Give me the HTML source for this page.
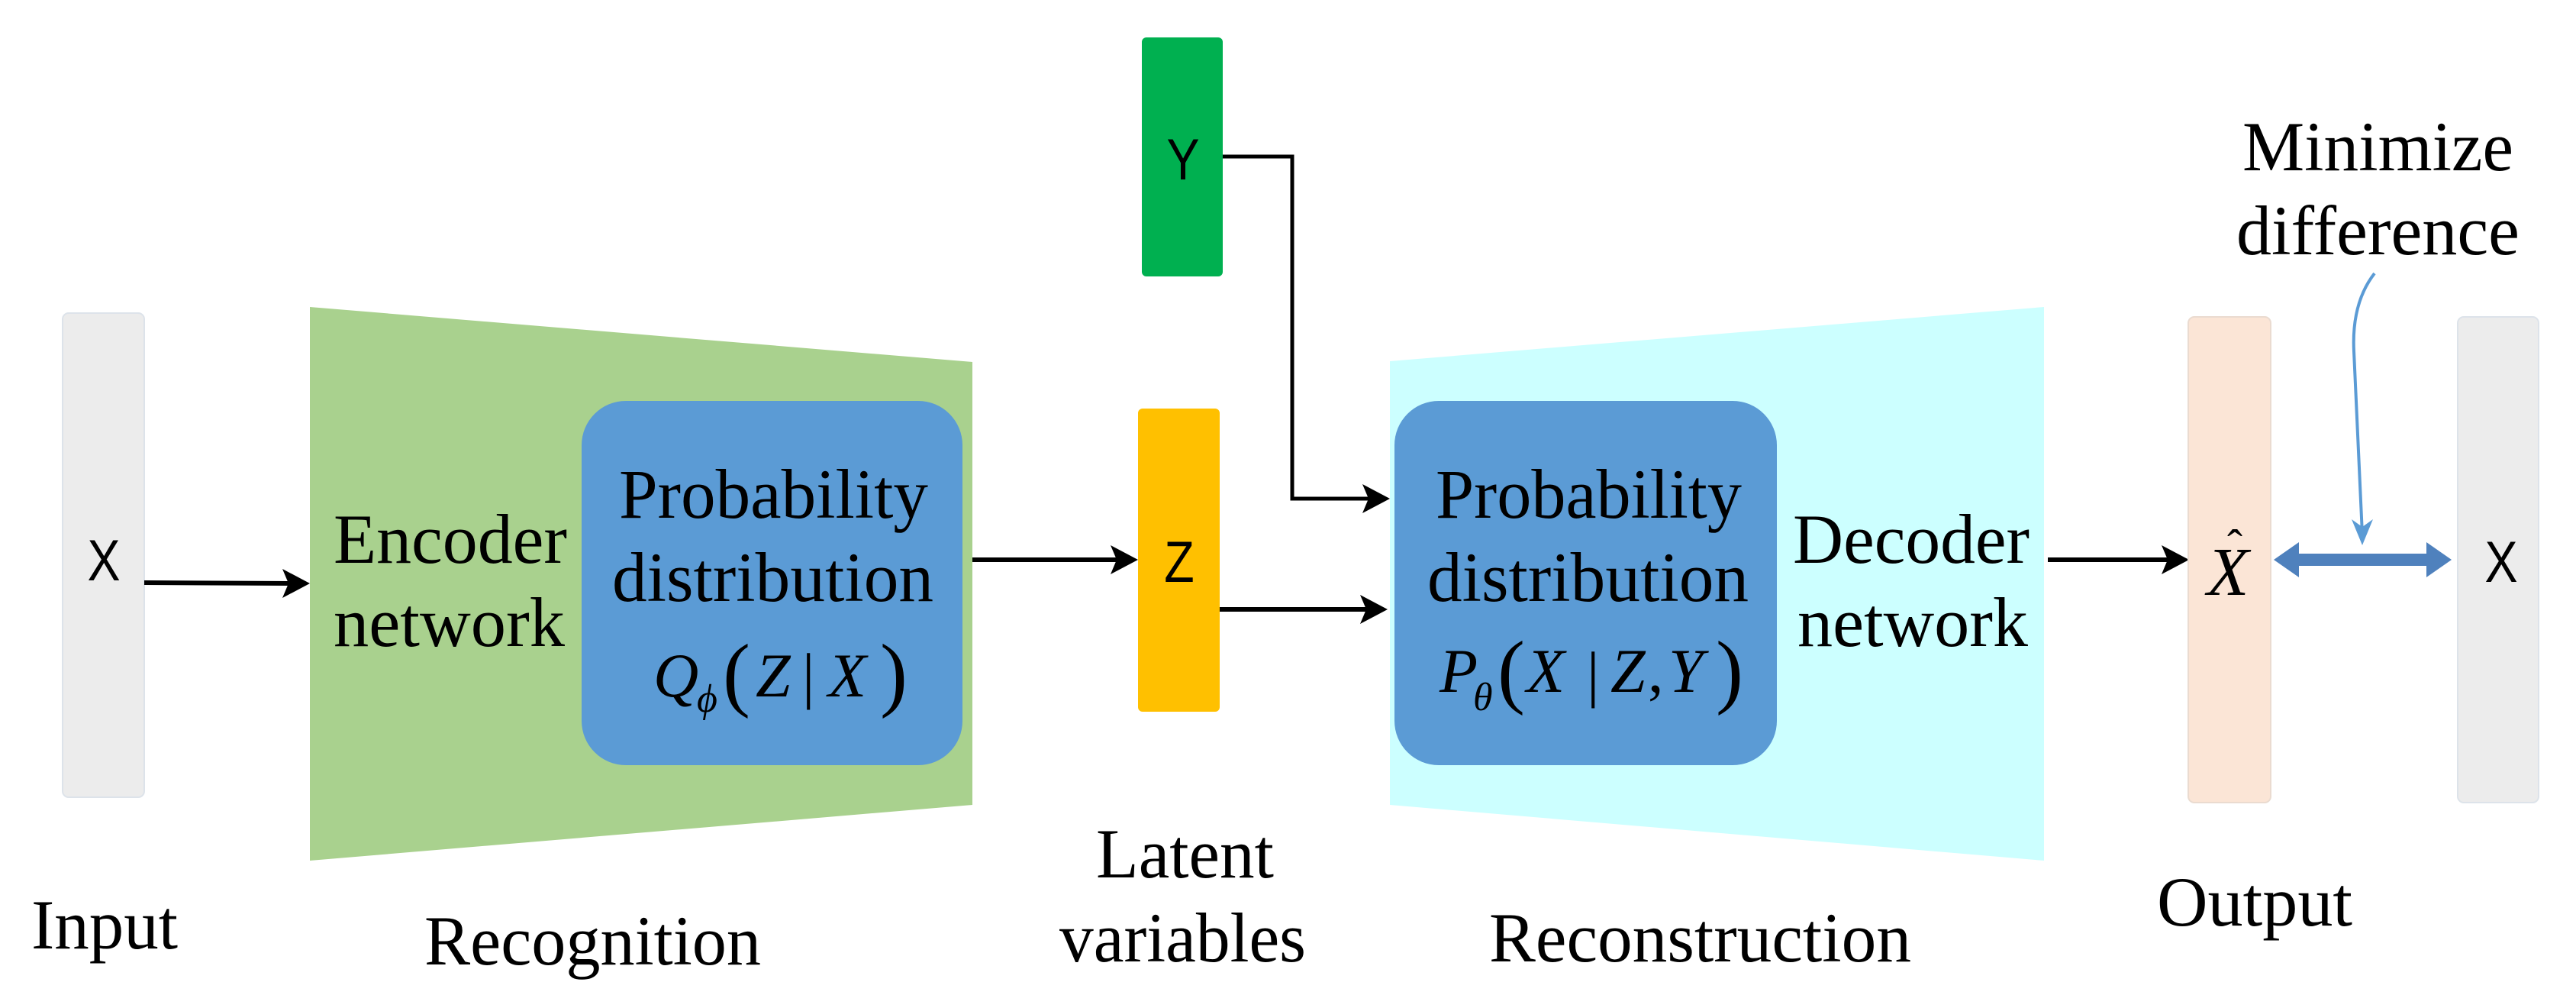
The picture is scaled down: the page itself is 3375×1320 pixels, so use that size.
<!DOCTYPE html>
<html><head><meta charset="utf-8"><style>html,body{margin:0;padding:0;background:#fff}svg{display:block}</style></head>
<body>
<svg width="3375" height="1320" viewBox="0 0 3375 1320" xmlns="http://www.w3.org/2000/svg">
<g font-family="Liberation Serif, serif" fill="#000">
<!-- Input bar -->
<rect x="82" y="410" width="107" height="634" rx="8" fill="#ececec" stroke="#dde3ea" stroke-width="2"/>
<text x="136" y="760" font-family="Liberation Sans, sans-serif" font-size="76" text-anchor="middle" transform="translate(136 0) scale(0.85 1) translate(-136 0)">X</text>
<!-- green trapezoid -->
<polygon points="406,402 1274,474 1274,1054 406,1127" fill="#a9d18e"/>
<rect x="762" y="525" width="499" height="477" rx="58" fill="#5b9bd5"/>
<text x="437" y="737" font-size="92" textLength="306" lengthAdjust="spacingAndGlyphs">Encoder</text>
<text x="437" y="846" font-size="92" textLength="303" lengthAdjust="spacingAndGlyphs">network</text>
<text x="811" y="678" font-size="92" textLength="405" lengthAdjust="spacingAndGlyphs">Probability</text>
<text x="802" y="787" font-size="92" textLength="421" lengthAdjust="spacingAndGlyphs">distribution</text>
<g font-style="italic">
<text x="856" y="912" font-size="82">Q</text>
<text x="913" y="932" font-size="52">ϕ</text>
<text x="947" y="918" font-size="108" font-style="normal">(</text>
<text x="990" y="912" font-size="82">Z</text>
<text x="1051" y="912" font-size="82" font-style="normal">|</text>
<text x="1085" y="912" font-size="82">X</text>
<text x="1153" y="918" font-size="108" font-style="normal">)</text>
</g>
<!-- Y box -->
<rect x="1496" y="49" width="106" height="313" rx="6" fill="#00b050"/>
<text x="1550" y="235" font-family="Liberation Sans, sans-serif" font-size="76" text-anchor="middle" transform="translate(1550 0) scale(0.85 1) translate(-1550 0)">Y</text>
<!-- Z box -->
<rect x="1491" y="535" width="107" height="397" rx="6" fill="#ffc000"/>
<text x="1545" y="762" font-family="Liberation Sans, sans-serif" font-size="76" text-anchor="middle" transform="translate(1545 0) scale(0.85 1) translate(-1545 0)">Z</text>
<!-- connectors -->
<line x1="189" y1="763" x2="385" y2="764" stroke="#000" stroke-width="6"/>
<polygon points="406,764 370,745 378,764 370,783"/>
<line x1="1274" y1="733" x2="1470" y2="733" stroke="#000" stroke-width="6"/>
<polygon points="1491,733 1455,714 1463,733 1455,752"/>
<polyline points="1602,205 1693,205 1693,653 1800,653" fill="none" stroke="#000" stroke-width="5"/>
<polygon points="1821,653 1785,634 1793,653 1785,672"/>
<line x1="1598" y1="798" x2="1798" y2="798" stroke="#000" stroke-width="6"/>
<polygon points="1818,798 1782,779 1790,798 1782,817"/>
<!-- cyan trapezoid -->
<polygon points="1821,473 2678,402 2678,1127 1821,1054" fill="#ccffff"/>
<rect x="1827" y="525" width="501" height="477" rx="58" fill="#5b9bd5"/>
<text x="1881" y="678" font-size="92" textLength="401" lengthAdjust="spacingAndGlyphs">Probability</text>
<text x="1870" y="787" font-size="92" textLength="421" lengthAdjust="spacingAndGlyphs">distribution</text>
<g font-style="italic">
<text x="1886" y="906" font-size="82">P</text>
<text x="1930" y="930" font-size="52">θ</text>
<text x="1962" y="914" font-size="108" font-style="normal">(</text>
<text x="2000" y="906" font-size="82">X</text>
<text x="2079" y="910" font-size="82" font-style="normal">|</text>
<text x="2110" y="906" font-size="82">Z</text>
<text x="2159" y="906" font-size="82" font-style="normal">,</text>
<text x="2186" y="906" font-size="82">Y</text>
<text x="2248" y="914" font-size="108" font-style="normal">)</text>
</g>
<text x="2349" y="737" font-size="92" textLength="310" lengthAdjust="spacingAndGlyphs">Decoder</text>
<text x="2355" y="846" font-size="92" textLength="302" lengthAdjust="spacingAndGlyphs">network</text>
<line x1="2683" y1="733" x2="2848" y2="733" stroke="#000" stroke-width="6"/>
<polygon points="2868,733 2832,714 2840,733 2832,752"/>
<!-- output bars -->
<rect x="2867" y="415" width="108" height="636" rx="8" fill="#fbe5d6" stroke="#eadbd0" stroke-width="2"/>
<text x="2919" y="779" font-size="90" font-style="italic" text-anchor="middle">X</text>
<text x="2928" y="735" font-size="60" text-anchor="middle">ˆ</text>
<rect x="3220" y="415" width="106" height="636" rx="8" fill="#ececec" stroke="#dde3ea" stroke-width="2"/>
<text x="3277" y="762" font-family="Liberation Sans, sans-serif" font-size="76" text-anchor="middle" transform="translate(3277 0) scale(0.85 1) translate(-3277 0)">X</text>
<!-- double arrow -->
<polygon points="2979,733 3012,710 3012,725 3179,725 3179,710 3212,733 3179,756 3179,741 3012,741 3012,756" fill="#4f81bd"/>
<!-- curved pointer -->
<path d="M3111,358 C3090,385 3082,420 3084,460 L3095,700" fill="none" stroke="#5b9bd5" stroke-width="4"/>
<polygon points="3081,680 3095,714 3109,680 3095,690" fill="#5b9bd5"/>
<text x="2938" y="223" font-size="92" textLength="355" lengthAdjust="spacingAndGlyphs">Minimize</text>
<text x="2930" y="333" font-size="92" textLength="371" lengthAdjust="spacingAndGlyphs">difference</text>
<!-- labels -->
<text x="41" y="1242" font-size="92" textLength="192" lengthAdjust="spacingAndGlyphs">Input</text>
<text x="556" y="1263" font-size="92" textLength="441" lengthAdjust="spacingAndGlyphs">Recognition</text>
<text x="1436" y="1149" font-size="92" textLength="233" lengthAdjust="spacingAndGlyphs">Latent</text>
<text x="1388" y="1259" font-size="92" textLength="323" lengthAdjust="spacingAndGlyphs">variables</text>
<text x="1951" y="1259" font-size="92" textLength="553" lengthAdjust="spacingAndGlyphs">Reconstruction</text>
<text x="2826" y="1212" font-size="92" textLength="256" lengthAdjust="spacingAndGlyphs">Output</text>
</g>
</svg>
</body></html>
